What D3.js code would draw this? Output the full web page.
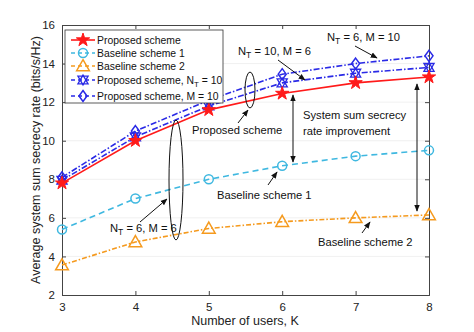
<!DOCTYPE html>
<html><head><meta charset="utf-8">
<script src="https://cdn.jsdelivr.net/npm/d3@7/dist/d3.min.js"></script>
<style>body{margin:0;background:#fff}svg{font-family:"Liberation Sans",Arial,sans-serif}</style>
</head><body><svg id="c" width="474" height="332"></svg>
<script>
const users = [3, 4, 5, 6, 7, 8];
const proposed = [7.8, 10.0, 11.6, 12.45, 13.0, 13.3];
const baseline1 = [5.4, 7.0, 8.0, 8.7, 9.2, 9.5];
const baseline2 = [3.55, 4.75, 5.45, 5.8, 6.0, 6.15];
const proposedNT10 = [7.95, 10.2, 11.8, 13.0, 13.5, 13.8];
const proposedM10 = [8.1, 10.5, 12.1, 13.45, 14.0, 14.4];
const yTicks = [2, 4, 6, 8, 10, 12, 14, 16];
const legendLabels = ["Proposed scheme", "Baseline scheme 1", "Baseline scheme 2", "Proposed scheme, N_T = 10", "Proposed scheme, M = 10"];

const svg = d3.select("#c");
const x = d3.scaleLinear().domain([3, 8]).range([62, 429]);
const y = d3.scaleLinear().domain([2, 16]).range([295, 25]);

// grid
svg.append("g").selectAll("line").data(yTicks.slice(1, -1)).join("line")
  .attr("x1", x(3)).attr("x2", x(8)).attr("y1", d => y(d)).attr("y2", d => y(d))
  .attr("stroke", "#ececec").attr("stroke-width", 0.8);

const axB = svg.append("g").attr("transform", `translate(0,${y(2)})`)
  .call(d3.axisBottom(x).tickValues(users).tickSize(-4).tickPadding(8).tickFormat(d3.format("d")));
const axL = svg.append("g").attr("transform", `translate(${x(3)},0)`)
  .call(d3.axisLeft(y).tickValues(yTicks).tickSize(-4).tickPadding(7));
const axT = svg.append("g").attr("transform", `translate(0,${y(16)})`)
  .call(d3.axisTop(x).tickValues(users).tickSize(-4).tickFormat(""));
const axR = svg.append("g").attr("transform", `translate(${x(8)},0)`)
  .call(d3.axisRight(y).tickValues(yTicks).tickSize(-4).tickFormat(""));
[axB, axL, axT, axR].forEach(a => {
  a.select(".domain").attr("stroke", "#444");
  a.selectAll(".tick line").attr("stroke", "#444");
  a.selectAll("text").attr("font-size", 11.5).attr("fill", "#222").attr("font-family", "Liberation Sans, Arial, sans-serif");
});

svg.append("text").attr("x", 245).attr("y", 325).attr("text-anchor", "middle").attr("font-size", 12.5).attr("fill", "#222").text("Number of users, K");
svg.append("text").attr("transform", `translate(40,${y(9)}) rotate(-90)`).attr("text-anchor", "middle").attr("font-size", 12.5).attr("fill", "#222").text("Average system sum secrecy rate (bits/s/Hz)");

const RED = "#ff1a1a", CYAN = "#3fb8e0", ORANGE = "#f59a1e", BLUE = "#2a2ae6";
const series = [
  {v: proposed, c: RED, dash: null, m: "star"},
  {v: baseline1, c: CYAN, dash: "6,4", m: "circle"},
  {v: baseline2, c: ORANGE, dash: "5,2,1.5,2", m: "triangle"},
  {v: proposedNT10, c: BLUE, dash: "6,2,1.5,2", m: "hex"},
  {v: proposedM10, c: BLUE, dash: "6,2,1.5,2", m: "diamond"}
];

function marker(g, type, cx, cy, c) {
  if (type === "star") {
    g.append("path").attr("d", d3.symbol(d3.symbolStar, 55)()).attr("transform", `translate(${cx},${cy})`).attr("fill", c).attr("stroke", c).attr("stroke-width", 1);
  } else if (type === "circle") {
    g.append("circle").attr("cx", cx).attr("cy", cy).attr("r", 4.5).attr("fill", "none").attr("stroke", c).attr("stroke-width", 1.5);
  } else if (type === "triangle") {
    g.append("path").attr("d", d3.symbol(d3.symbolTriangle, 70)()).attr("transform", `translate(${cx},${cy+1})`).attr("fill", "none").attr("stroke", c).attr("stroke-width", 1.5);
  } else if (type === "hex") {
    g.append("path").attr("d", d3.symbol(d3.symbolTriangle, 45)()).attr("transform", `translate(${cx},${cy+1})`).attr("fill", "none").attr("stroke", c).attr("stroke-width", 1.3);
    g.append("path").attr("d", d3.symbol(d3.symbolTriangle, 45)()).attr("transform", `translate(${cx},${cy-1}) rotate(180)`).attr("fill", "none").attr("stroke", c).attr("stroke-width", 1.3);
  } else if (type === "diamond") {
    g.append("path").attr("d", `M0,-5.5L4,0L0,5.5L-4,0Z`).attr("transform", `translate(${cx},${cy})`).attr("fill", "none").attr("stroke", c).attr("stroke-width", 1.5);
  }
}

const line = d3.line().x((d, i) => x(users[i])).y(d => y(d));
const plot = svg.append("g");
series.slice().reverse().forEach(s => {
  plot.append("path").datum(s.v).attr("d", line).attr("fill", "none").attr("stroke", s.c).attr("stroke-width", 1.6).attr("stroke-dasharray", s.dash);
  s.v.forEach((v, i) => marker(plot, s.m, x(users[i]), y(v), s.c));
});

// annotations
const ann = svg.append("g");
svg.append("defs").append("marker").attr("id", "ah").attr("viewBox", "0 0 10 10").attr("refX", 9).attr("refY", 5)
  .attr("markerWidth", 7).attr("markerHeight", 7).attr("orient", "auto-start-reverse")
  .append("path").attr("d", "M0,1L10,5L0,9Z").attr("fill", "#111");
function arrow(x1, y1, x2, y2, both) {
  const l = ann.append("line").attr("x1", x1).attr("y1", y1).attr("x2", x2).attr("y2", y2).attr("stroke", "#111").attr("stroke-width", 1).attr("marker-end", "url(#ah)");
  if (both) l.attr("marker-start", "url(#ah)");
}
function txt(tx, ty, parts) {
  const t = ann.append("text").attr("x", tx).attr("y", ty).attr("font-size", 11.2).attr("fill", "#111");
  parts.forEach(p => {
    const ts = t.append("tspan").text(p.t);
    if (p.sub) ts.attr("font-size", 8.5).attr("dy", 3);
    if (p.up) ts.attr("dy", -3);
  });
}
ann.append("ellipse").attr("cx", 250).attr("cy", 90).attr("rx", 5).attr("ry", 18).attr("fill", "none").attr("stroke", "#111").attr("stroke-width", 1);
ann.append("ellipse").attr("cx", 176).attr("cy", 180).attr("rx", 7).attr("ry", 60).attr("fill", "none").attr("stroke", "#111").attr("stroke-width", 1);

txt(327, 41, [{t: "N"}, {t: "T", sub: true}, {t: " = 6, M = 10", up: true}]);
arrow(355, 46, 377, 58);
txt(238, 55, [{t: "N"}, {t: "T", sub: true}, {t: " = 10, M = 6", up: true}]);
arrow(278, 60, 305, 80);
txt(192, 134, [{t: "Proposed scheme"}]);
arrow(238, 123, 248, 110);
txt(110, 232, [{t: "N"}, {t: "T", sub: true}, {t: " = 6, M = 6", up: true}]);
arrow(140, 222, 167, 199);
txt(303, 119, [{t: "System sum secrecy"}]);
txt(303, 135, [{t: "rate improvement"}]);
arrow(293, 95, 293, 162, true);
arrow(417, 84, 417, 211, true);
txt(217, 199, [{t: "Baseline scheme 1"}]);
arrow(268, 185, 277, 172);
txt(318, 246, [{t: "Baseline scheme 2"}]);
arrow(362, 233, 370, 222);

// legend
const lg = svg.append("g");
lg.append("rect").attr("x", 65).attr("y", 30).attr("width", 158).attr("height", 73).attr("fill", "#fff").attr("stroke", "#333").attr("stroke-width", 0.8);
const ly = [40, 53, 66, 80, 96];
series.forEach((s, i) => {
  lg.append("line").attr("x1", 71).attr("x2", 95).attr("y1", ly[i]).attr("y2", ly[i]).attr("stroke", s.c).attr("stroke-width", 1.6).attr("stroke-dasharray", s.dash ? "4,3" : null);
  marker(lg, s.m, 83, ly[i], s.c);
  const lab = legendLabels[i];
  const t = lg.append("text").attr("x", 97).attr("y", ly[i] + 4).attr("font-size", 10.4).attr("fill", "#111");
  if (lab.includes("N_T")) {
    const [a, b] = lab.split("N_T");
    t.append("tspan").text(a + "N");
    t.append("tspan").text("T").attr("font-size", 8).attr("dy", 3);
    t.append("tspan").text(b).attr("dy", -3);
  } else t.text(lab);
});
</script></body></html>
